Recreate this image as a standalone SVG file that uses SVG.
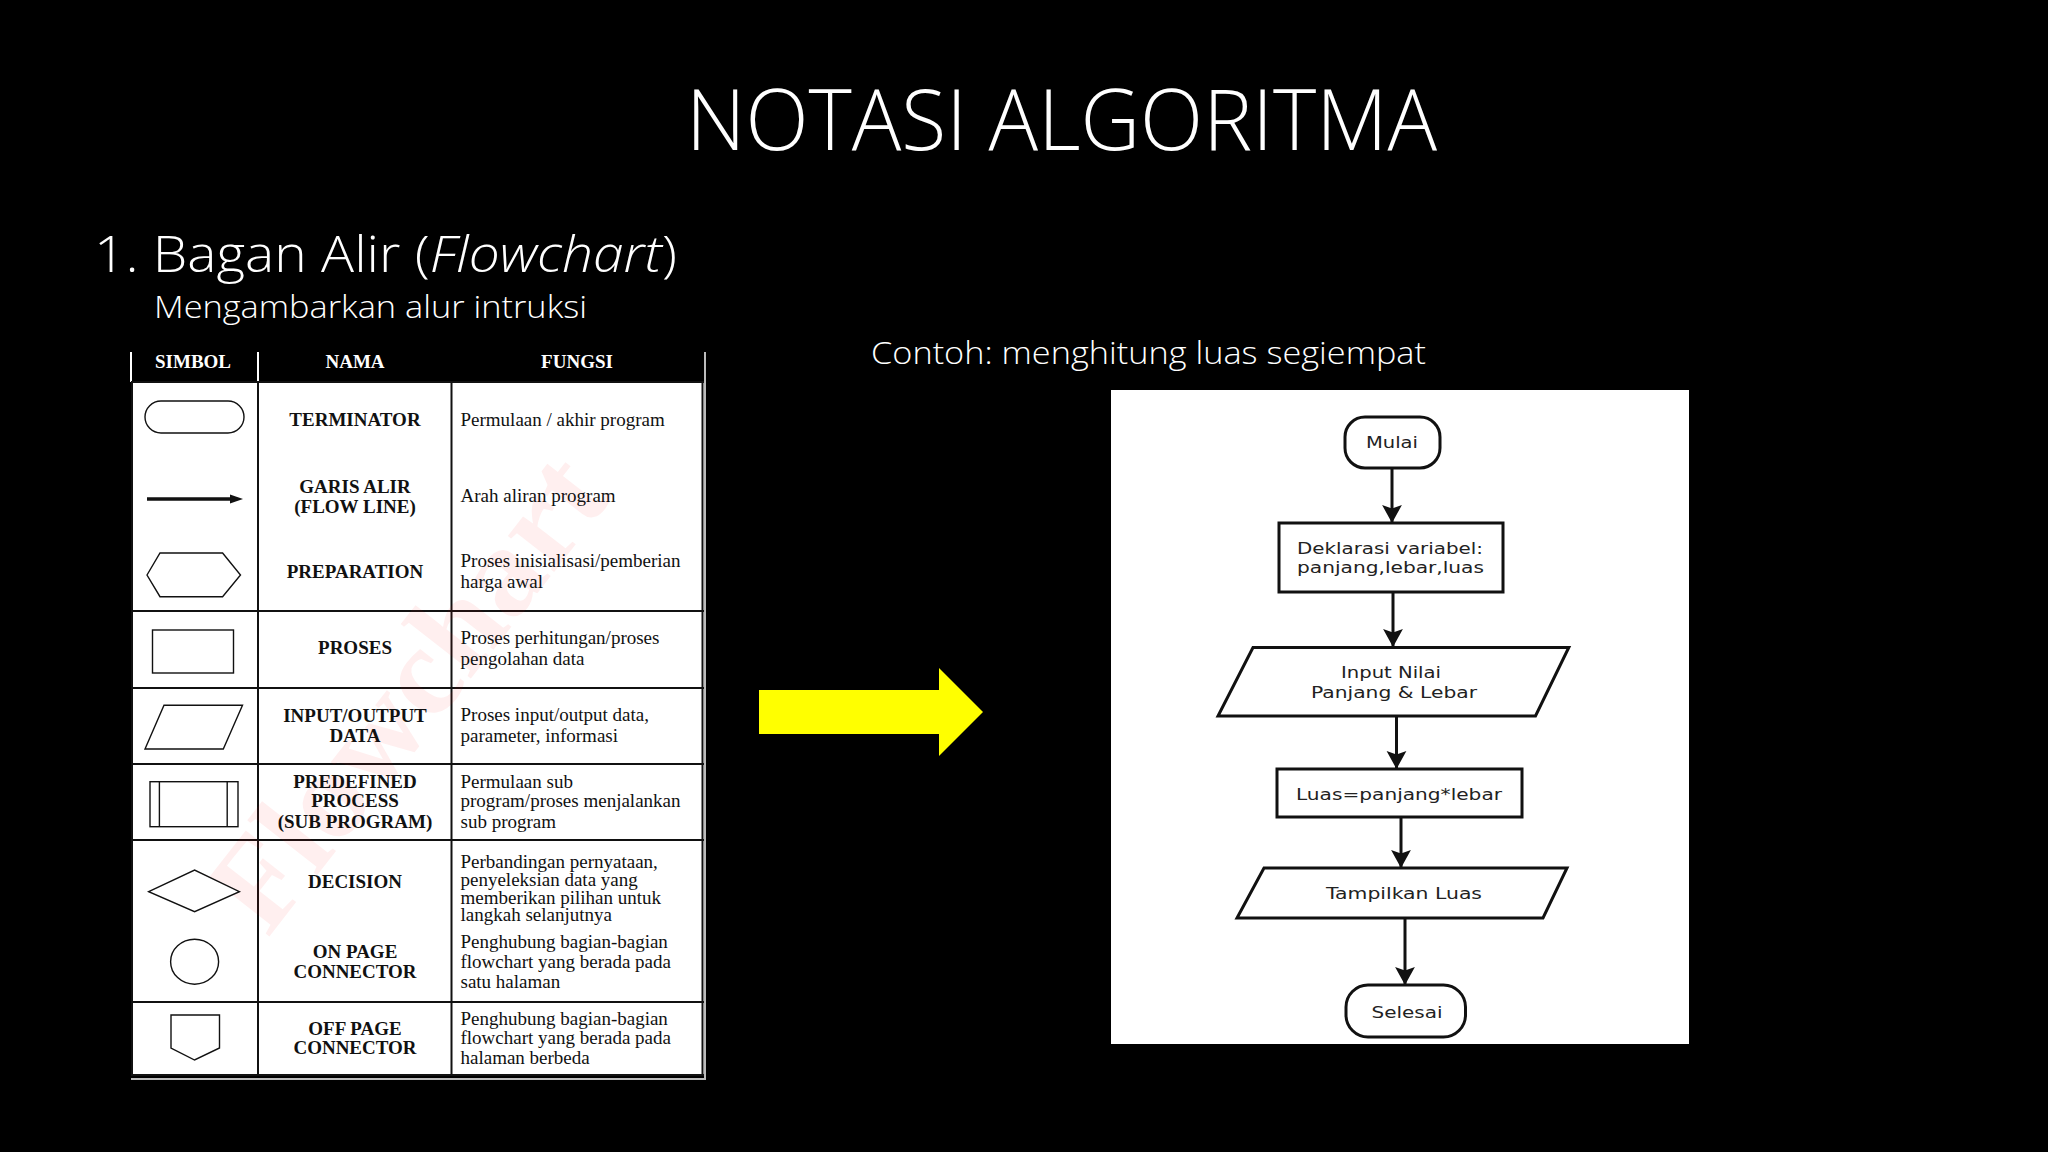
<svg xmlns="http://www.w3.org/2000/svg" width="2048" height="1152" viewBox="0 0 2048 1152">
  <style>
    .slide { font-family: "Open Sans", "Liberation Sans", sans-serif; font-weight: 300; fill: #ffffff; }
    .hdr { font-family: "Liberation Serif", serif; font-weight: bold; font-size: 19px; fill: #ffffff; text-anchor: middle; }
    .nm { font-family: "Liberation Serif", serif; font-weight: bold; font-size: 19px; fill: #111111; text-anchor: middle; }
    .fn { font-family: "Liberation Serif", serif; font-size: 19px; fill: #111111; }
    .sym { fill: #ffffff; stroke: #111111; stroke-width: 1.4; }
    .grid { stroke: #111111; stroke-width: 2; fill: none; }
    .fc { fill: #ffffff; stroke: #111111; stroke-width: 3; }
    .fct { font-family: "DejaVu Sans", "Verdana", sans-serif; font-size: 15.5px; fill: #222222; text-anchor: middle; }
    .conn { stroke: #111111; stroke-width: 3; fill: none; }
  </style>
  <defs>
    <marker id="ah" viewBox="0 0 20 22" refX="20" refY="11" markerWidth="18" markerHeight="22" markerUnits="userSpaceOnUse" orient="auto">
      <path d="M0,0 L20,11 L0,22 L4,11 Z" fill="#111111"/>
    </marker>
  </defs>

  <rect x="0" y="0" width="2048" height="1152" fill="#000000"/>

  <g id="title">
    <text class="slide" x="686" y="150" font-size="85" textLength="751" lengthAdjust="spacingAndGlyphs">NOTASI ALGORITMA</text>
  </g>
  <g id="heading">
    <text class="slide" x="94" y="272" font-size="50" textLength="583" lengthAdjust="spacingAndGlyphs">1. Bagan Alir (<tspan font-style="italic">Flowchart</tspan>)</text>
    <text class="slide" x="154" y="318" font-size="31" textLength="433" lengthAdjust="spacingAndGlyphs">Mengambarkan alur intruksi</text>
    <text class="slide" x="871" y="364" font-size="32" textLength="555" lengthAdjust="spacingAndGlyphs">Contoh: menghitung luas segiempat</text>
  </g>

  <!-- Symbol table -->
  <g id="table">
    <rect x="131" y="382" width="574" height="694" fill="#ffffff"/>
    <line x1="131" y1="352" x2="131" y2="382" stroke="#ffffff" stroke-width="2"/>
    <line x1="258" y1="352" x2="258" y2="382" stroke="#ffffff" stroke-width="2"/>
    <line x1="705" y1="352" x2="705" y2="1080" stroke="#bbbbbb" stroke-width="2"/>
    <line x1="131" y1="1079" x2="706" y2="1079" stroke="#bbbbbb" stroke-width="2"/>
    <text class="hdr" x="193" y="368">SIMBOL</text>
    <text class="hdr" x="355" y="368">NAMA</text>
    <text class="hdr" x="577" y="368">FUNGSI</text>
    <line class="grid" x1="132" y1="382" x2="132" y2="1075"/>
    <line class="grid" x1="702.5" y1="382" x2="702.5" y2="1075"/>
    <line class="grid" x1="131" y1="1075" x2="704" y2="1075"/>
    <line class="grid" x1="131" y1="382" x2="704" y2="382"/>
    <line class="grid" x1="258" y1="382" x2="258" y2="1075"/>
    <line class="grid" x1="451.5" y1="382" x2="451.5" y2="1075"/>
    <line class="grid" x1="131" y1="611" x2="704" y2="611"/>
    <line class="grid" x1="131" y1="688" x2="704" y2="688"/>
    <line class="grid" x1="131" y1="764" x2="704" y2="764"/>
    <line class="grid" x1="131" y1="840" x2="704" y2="840"/>
    <line class="grid" x1="131" y1="1002" x2="704" y2="1002"/>

    <!-- watermark -->
    <text x="405" y="690" transform="rotate(-52 405 690)" font-family="Liberation Serif, serif" font-weight="bold" font-size="128" fill="#ff2020" fill-opacity="0.07" text-anchor="middle" dy="0.35em">Flowchart</text>
  </g>

  <g id="row-terminator">
    <rect class="sym" x="145" y="401" width="99" height="32" rx="16"/>
    <text class="nm" x="355" y="426">TERMINATOR</text>
    <text class="fn" x="460.5" y="426">Permulaan / akhir program</text>
  </g>
  <g id="row-flowline">
    <line x1="147" y1="499" x2="233" y2="499" stroke="#111111" stroke-width="3.5"/>
    <polygon points="230,494.5 243,499 230,503.5" fill="#111111"/>
    <text class="nm" x="355" y="493">GARIS ALIR</text>
    <text class="nm" x="355" y="513">(FLOW LINE)</text>
    <text class="fn" x="460.5" y="502">Arah aliran program</text>
  </g>
  <g id="row-preparation">
    <polygon class="sym" points="147,575 160,553 222.6,553 240.5,575 222.6,596.7 160,596.7"/>
    <text class="nm" x="355" y="578">PREPARATION</text>
    <text class="fn" x="460.5" y="567">Proses inisialisasi/pemberian</text>
    <text class="fn" x="460.5" y="588">harga awal</text>
  </g>
  <g id="row-proses">
    <rect class="sym" x="152.5" y="630" width="81" height="43"/>
    <text class="nm" x="355" y="654">PROSES</text>
    <text class="fn" x="460.5" y="644">Proses perhitungan/proses</text>
    <text class="fn" x="460.5" y="665">pengolahan data</text>
  </g>
  <g id="row-io">
    <polygon class="sym" points="164,705.3 242.5,705.3 223.3,749 145,749"/>
    <text class="nm" x="355" y="722">INPUT/OUTPUT</text>
    <text class="nm" x="355" y="742">DATA</text>
    <text class="fn" x="460.5" y="721">Proses input/output data,</text>
    <text class="fn" x="460.5" y="742">parameter, informasi</text>
  </g>
  <g id="row-predefined">
    <rect class="sym" x="150" y="781.7" width="88" height="45"/>
    <line x1="159.4" y1="781.7" x2="159.4" y2="826.7" stroke="#111111" stroke-width="1.4"/>
    <line x1="227.2" y1="781.7" x2="227.2" y2="826.7" stroke="#111111" stroke-width="1.4"/>
    <text class="nm" x="355" y="788">PREDEFINED</text>
    <text class="nm" x="355" y="807">PROCESS</text>
    <text class="nm" x="355" y="828">(SUB PROGRAM)</text>
    <text class="fn" x="460.5" y="788">Permulaan sub</text>
    <text class="fn" x="460.5" y="807">program/proses menjalankan</text>
    <text class="fn" x="460.5" y="828">sub program</text>
  </g>
  <g id="row-decision">
    <polygon class="sym" points="148.7,891.7 194.6,870 239.4,891.7 194.6,911.7"/>
    <text class="nm" x="355" y="888">DECISION</text>
    <text class="fn" x="460.5" y="868">Perbandingan pernyataan,</text>
    <text class="fn" x="460.5" y="886">penyeleksian data yang</text>
    <text class="fn" x="460.5" y="904">memberikan pilihan untuk</text>
    <text class="fn" x="460.5" y="921">langkah selanjutnya</text>
  </g>
  <g id="row-onpage">
    <ellipse class="sym" cx="194.6" cy="961.7" rx="24" ry="22.5"/>
    <text class="nm" x="355" y="958">ON PAGE</text>
    <text class="nm" x="355" y="978">CONNECTOR</text>
    <text class="fn" x="460.5" y="948">Penghubung bagian-bagian</text>
    <text class="fn" x="460.5" y="968">flowchart yang berada pada</text>
    <text class="fn" x="460.5" y="988">satu halaman</text>
  </g>
  <g id="row-offpage">
    <polygon class="sym" points="171,1015 219.5,1015 219.5,1048 194.6,1060 171,1048"/>
    <text class="nm" x="355" y="1035">OFF PAGE</text>
    <text class="nm" x="355" y="1054">CONNECTOR</text>
    <text class="fn" x="460.5" y="1025">Penghubung bagian-bagian</text>
    <text class="fn" x="460.5" y="1044">flowchart yang berada pada</text>
    <text class="fn" x="460.5" y="1064">halaman berbeda</text>
  </g>

  <g id="yellow-arrow">
    <polygon points="759,690 939,690 939,668 983,712 939,756 939,734 759,734" fill="#ffff00"/>
  </g>

  <rect id="example-panel" x="1111" y="390" width="578" height="654" fill="#ffffff"/>

  <g id="connectors">
    <line class="conn" x1="1392" y1="468" x2="1392" y2="523" marker-end="url(#ah)"/>
    <line class="conn" x1="1393" y1="592" x2="1393" y2="647" marker-end="url(#ah)"/>
    <line class="conn" x1="1396.5" y1="716" x2="1396.5" y2="769" marker-end="url(#ah)"/>
    <line class="conn" x1="1401" y1="817" x2="1401" y2="868" marker-end="url(#ah)"/>
    <line class="conn" x1="1405" y1="918" x2="1405" y2="985" marker-end="url(#ah)"/>
  </g>

  <g id="node-mulai">
    <rect class="fc" x="1345" y="417" width="95" height="51" rx="20"/>
    <text class="fct" x="1392" y="448" textLength="52" lengthAdjust="spacingAndGlyphs">Mulai</text>
  </g>
  <g id="node-deklarasi">
    <rect class="fc" x="1279" y="523" width="224" height="69"/>
    <text class="fct" x="1390" y="554" textLength="186" lengthAdjust="spacingAndGlyphs">Deklarasi variabel:</text>
    <text class="fct" x="1390.5" y="573" textLength="187" lengthAdjust="spacingAndGlyphs">panjang,lebar,luas</text>
  </g>
  <g id="node-input">
    <polygon class="fc" points="1253,647.5 1568.8,647.5 1535.5,716 1218,716"/>
    <text class="fct" x="1391" y="678" textLength="100" lengthAdjust="spacingAndGlyphs">Input Nilai</text>
    <text class="fct" x="1394" y="698" textLength="166" lengthAdjust="spacingAndGlyphs">Panjang &amp; Lebar</text>
  </g>
  <g id="node-luas">
    <rect class="fc" x="1277" y="769" width="245" height="48"/>
    <text class="fct" x="1399" y="800" textLength="206" lengthAdjust="spacingAndGlyphs">Luas=panjang*lebar</text>
  </g>
  <g id="node-tampilkan">
    <polygon class="fc" points="1264,868 1567,868 1543,918 1237,918"/>
    <text class="fct" x="1404" y="899" textLength="156" lengthAdjust="spacingAndGlyphs">Tampilkan Luas</text>
  </g>
  <g id="node-selesai">
    <rect class="fc" x="1346" y="985" width="119.5" height="52" rx="22"/>
    <text class="fct" x="1407" y="1018" textLength="71" lengthAdjust="spacingAndGlyphs">Selesai</text>
  </g>
</svg>
